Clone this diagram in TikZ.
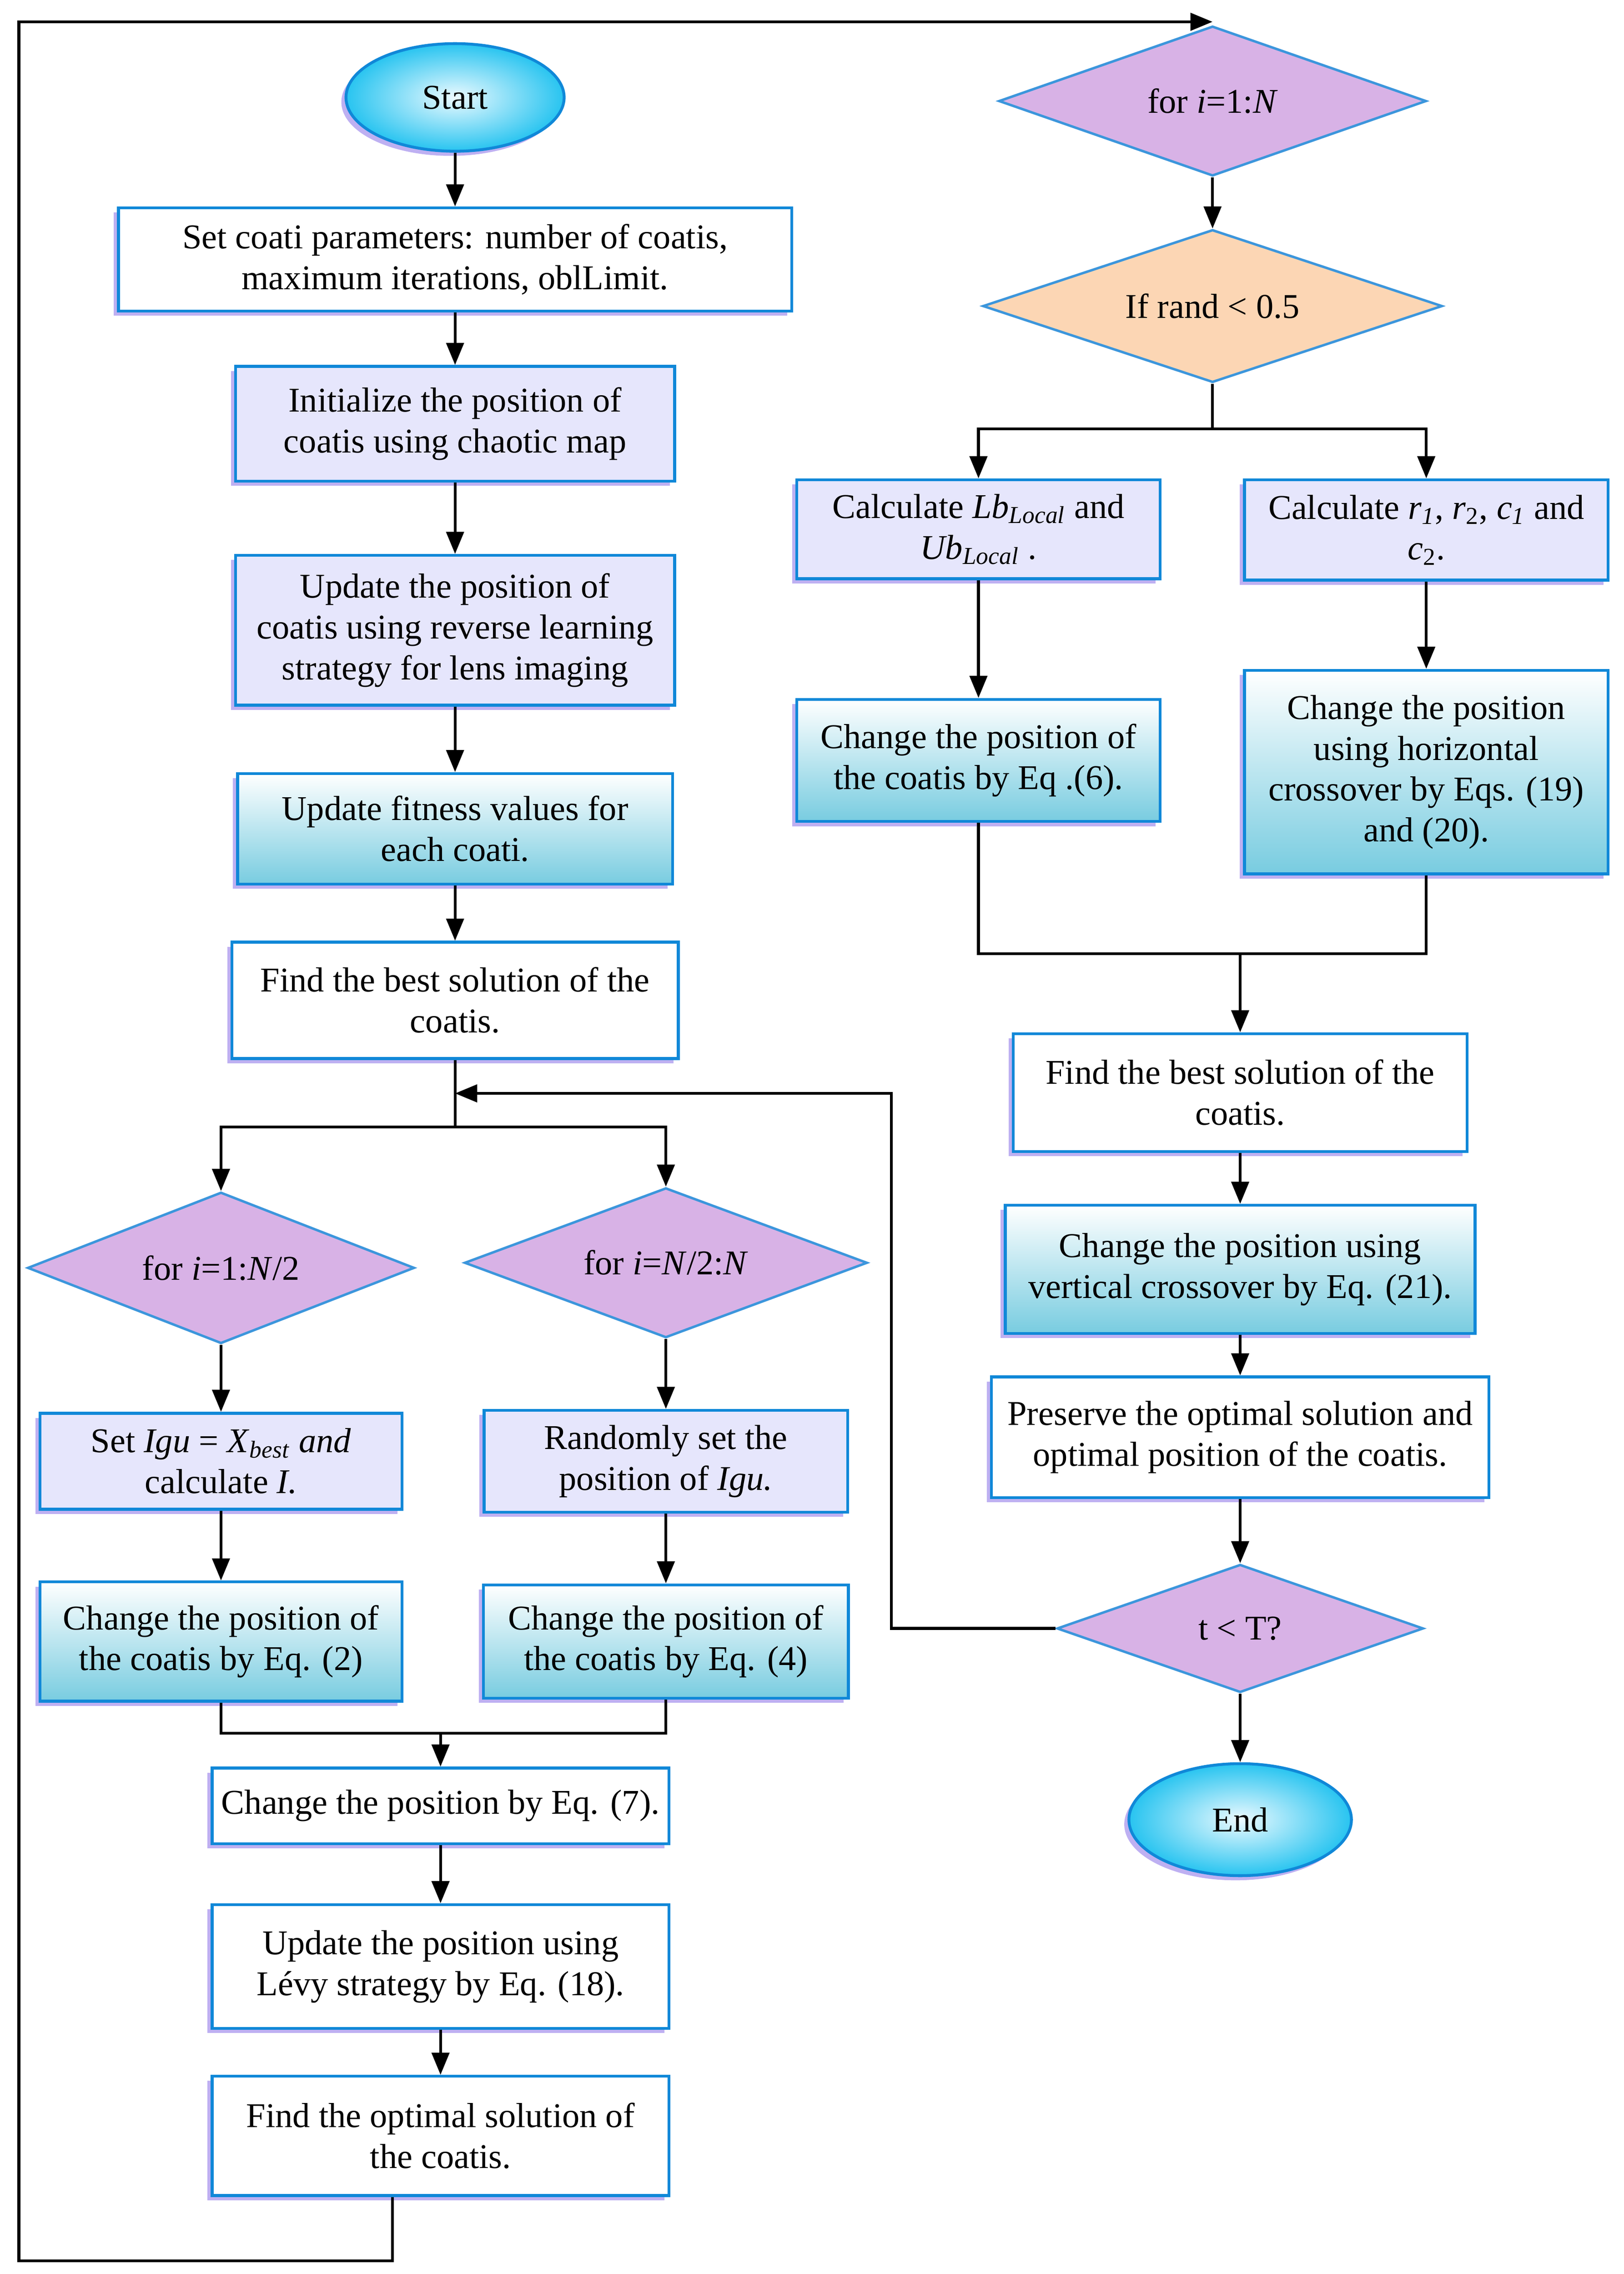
\documentclass[tikz,border=0pt]{standalone}
\usepackage{fontspec}
\setmainfont{Liberation Serif}
\usetikzlibrary{shapes.geometric,arrows.meta,shadows}
\definecolor{bord}{RGB}{16,136,216}
\definecolor{dbord}{RGB}{60,150,220}
\definecolor{lav}{RGB}{230,230,252}
\definecolor{gradc}{RGB}{120,204,224}
\definecolor{purp}{RGB}{216,178,230}
\definecolor{peach}{RGB}{252,214,180}
\definecolor{shad}{RGB}{190,176,242}
\definecolor{cyanE}{RGB}{40,196,240}
\definecolor{cyanC}{RGB}{236,250,255}
\begin{document}
\begin{tikzpicture}[x=0.025cm,y=-0.025cm,
 font=\fontsize{17}{20}\selectfont,
 base/.style={draw=bord, line width=1.4pt, align=center, inner sep=2pt,
   drop shadow={shadow xshift=-0.08cm, shadow yshift=-0.08cm, fill=shad, opacity=1}},
 wbox/.style={base, rectangle, fill=white},
 lbox/.style={base, rectangle, fill=lav},
 gbox/.style={base, rectangle, top color=white, bottom color=gradc},
 term/.style={base, ellipse, inner color=cyanC, outer color=cyanE},
 dec/.style={diamond, draw=dbord, line width=1.2pt, fill=purp, aspect=2.5, inner sep=1pt},
 arr/.style={line width=1.4pt, -{Triangle[width=0.3cm,length=0.38cm]}},
 ln/.style={line width=1.4pt}]
\useasboundingbox (0,0) rectangle (1117,1564);
% left column
\node[term, minimum width=3.75cm, minimum height=1.85cm] (start) at (313,67) {Start};
\node[wbox, minimum width=11.575cm, minimum height=1.775cm] (b1) at (313,178.5) {Set coati parameters: number of coatis,\\ maximum iterations, oblLimit.};
\node[lbox, minimum width=7.55cm, minimum height=1.975cm] (b2) at (313,291.5) {Initialize the position of\\ coatis using chaotic map};
\node[lbox, minimum width=7.55cm, minimum height=2.575cm] (b3) at (313,433.5) {Update the position of\\ coatis using reverse learning\\ strategy for lens imaging};
\node[gbox, minimum width=7.475cm, minimum height=1.9cm] (b4) at (313,570) {Update fitness values for\\ each coati.};
\node[wbox, minimum width=7.675cm, minimum height=2.0cm] (b5) at (313,688) {Find the best solution of the\\ coatis.};
\node[dec, minimum width=6.65cm, minimum height=2.6cm] (dL) at (152,872) {for \textit{i}=1:\textit{N}/2};
\node[dec, minimum width=6.925cm, minimum height=2.575cm] (dR) at (458,868.5) {for \textit{i}=\textit{N}/2:\textit{N}};
\node[lbox, minimum width=6.225cm, minimum height=1.65cm] (L1) at (152,1005) {Set \textit{Igu} = \textit{X}\textsubscript{\textit{best}} \textit{and}\\ calculate \textit{I.}};
\node[lbox, minimum width=6.25cm, minimum height=1.75cm] (R1) at (458,1005) {Randomly set the\\ position of \textit{Igu.}};
\node[gbox, minimum width=6.225cm, minimum height=2.05cm] (L2) at (152,1129) {Change the position of\\ the coatis by Eq. (2)};
\node[gbox, minimum width=6.275cm, minimum height=1.95cm] (R2) at (458,1129) {Change the position of\\ the coatis by Eq. (4)};
\node[wbox, minimum width=7.85cm, minimum height=1.3cm] (M1) at (303,1242) {Change the position by Eq. (7).};
\node[wbox, minimum width=7.85cm, minimum height=2.125cm] (M2) at (303,1352.5) {Update the position using\\ Lévy strategy by Eq. (18).};
\node[wbox, minimum width=7.85cm, minimum height=2.05cm] (M3) at (303,1469) {Find the optimal solution of\\ the coatis.};
% right column
\node[dec, minimum width=7.35cm, minimum height=2.575cm] (dTop) at (834,69.5) {for \textit{i}=1:\textit{N}};
\node[dec, fill=peach, minimum width=7.9cm, minimum height=2.625cm] (dRand) at (834,210.5) {If rand < 0.5};
\node[lbox, minimum width=6.25cm, minimum height=1.7cm] (RL1) at (673,364) {Calculate \textit{Lb}\textsubscript{\textit{Local}} and\\ \textit{Ub}\textsubscript{\textit{Local}} .};
\node[lbox, minimum width=6.25cm, minimum height=1.725cm] (RR1) at (981,364.5) {Calculate \textit{r}\textsubscript{\textit{1}}, \textit{r}\textsubscript{2}, \textit{c}\textsubscript{\textit{1}} and\\ \textit{c}\textsubscript{2}.};
\node[gbox, minimum width=6.25cm, minimum height=2.1cm] (RL2) at (673,523) {Change the position of\\ the coatis by Eq .(6).};
\node[gbox, minimum width=6.25cm, minimum height=3.5cm] (RR2) at (981,531) {Change the position\\ using horizontal\\ crossover by Eqs. (19)\\ and (20).};
\node[wbox, minimum width=7.8cm, minimum height=2.025cm] (F) at (853,751.5) {Find the best solution of the\\ coatis.};
\node[gbox, minimum width=8.075cm, minimum height=2.2cm] (G) at (853,873) {Change the position using\\ vertical crossover by Eq. (21).};
\node[wbox, minimum width=8.55cm, minimum height=2.075cm] (H) at (853,988.5) {Preserve the optimal solution and\\ optimal position of the coatis.};
\node[dec, minimum width=6.3cm, minimum height=2.2cm] (dT) at (853,1120) {t < T?};
\node[term, minimum width=3.825cm, minimum height=1.925cm] (end) at (853,1251.5) {End};
% coordinates
\coordinate (j1) at (313,775);
\coordinate (jr) at (313,752);
\coordinate (ret) at (613,752);
\coordinate (m) at (303,1192);
\coordinate (c1) at (270,1555);
\coordinate (c2) at (13,1555);
\coordinate (c3) at (13,15);
\coordinate (j2) at (834,295);
\coordinate (j3) at (853,656);
% connectors left
\draw[arr] (start) -- (b1);
\draw[arr] (b1) -- (b2);
\draw[arr] (b2) -- (b3);
\draw[arr] (b3) -- (b4);
\draw[arr] (b4) -- (b5);
\draw[ln] (b5.south) -- (j1);
\draw[arr] (j1) -| (dL.north);
\draw[arr] (j1) -| (dR.north);
\draw[arr] (dL) -- (L1);
\draw[arr] (dR) -- (R1);
\draw[arr] (L1) -- (L2);
\draw[arr] (R1) -- (R2);
\draw[ln] (L2.south) |- (m);
\draw[ln] (R2.south) |- (m);
\draw[arr] (m) -- (M1);
\draw[arr] (M1) -- (M2);
\draw[arr] (M2) -- (M3);
\draw[arr] (M3.south -| c1) -- (c1) -- (c2) -- (c3) -- (dTop.north |- c3);
% connectors right
\draw[arr] (dTop) -- (dRand);
\draw[ln] (dRand.south) -- (j2);
\draw[arr] (j2) -| (RL1.north);
\draw[arr] (j2) -| (RR1.north);
\draw[arr] (RL1) -- (RL2);
\draw[arr] (RR1) -- (RR2);
\draw[ln] (RL2.south) |- (j3);
\draw[ln] (RR2.south) |- (j3);
\draw[arr] (j3) -- (F);
\draw[arr] (F) -- (G);
\draw[arr] (G) -- (H);
\draw[arr] (H) -- (dT);
\draw[arr] (dT) -- (end);
\draw[arr] (dT.west) -| (ret) -- (jr);
\end{tikzpicture}
\end{document}
